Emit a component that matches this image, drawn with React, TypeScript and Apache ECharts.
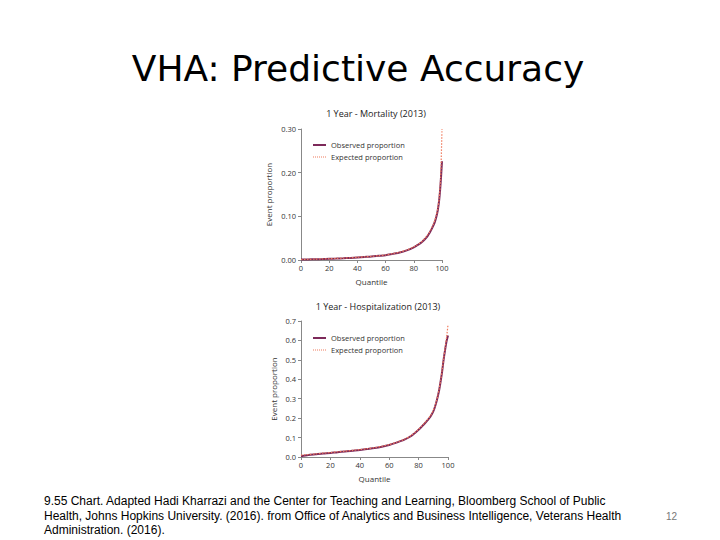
import React, { useEffect, useRef } from "react";
import * as echarts from "echarts";

const quantiles = [0, 5, 10, 15, 20, 25, 30, 35, 40, 45, 50, 55, 60, 65, 70, 75, 80, 82, 84, 86, 88, 90, 91, 92, 93, 94, 95, 96, 97, 98, 99, 100];

const mortObserved = [0.001, 0.0012, 0.0018, 0.0022, 0.0028, 0.0033, 0.004, 0.0048, 0.006, 0.007, 0.008, 0.0095, 0.011, 0.014, 0.017, 0.022, 0.029, 0.033, 0.037, 0.042, 0.048, 0.056, 0.061, 0.067, 0.073, 0.08, 0.088, 0.099, 0.114, 0.137, 0.175, 0.226];
const mortExpected = [0.0012, 0.0014, 0.002, 0.0025, 0.003, 0.0036, 0.0043, 0.0051, 0.0062, 0.0072, 0.0083, 0.0098, 0.0115, 0.0145, 0.018, 0.023, 0.03, 0.034, 0.038, 0.043, 0.05, 0.058, 0.063, 0.069, 0.076, 0.083, 0.092, 0.103, 0.118, 0.142, 0.185, 0.3];

const hospObserved = [0.004, 0.01, 0.014, 0.018, 0.021, 0.025, 0.028, 0.032, 0.036, 0.041, 0.046, 0.053, 0.062, 0.074, 0.088, 0.108, 0.14, 0.155, 0.171, 0.188, 0.207, 0.235, 0.255, 0.28, 0.31, 0.345, 0.39, 0.44, 0.5, 0.55, 0.595, 0.625];
const hospExpected = [0.01, 0.013, 0.016, 0.02, 0.023, 0.027, 0.03, 0.034, 0.038, 0.043, 0.048, 0.055, 0.064, 0.076, 0.09, 0.111, 0.143, 0.158, 0.174, 0.192, 0.212, 0.24, 0.26, 0.285, 0.315, 0.35, 0.395, 0.445, 0.505, 0.56, 0.615, 0.68];

const xTicks = { min: 0, max: 100, interval: 20 };
const mortTicks = { min: 0, max: 0.3, interval: 0.1 };
const hospTicks = { min: 0, max: 0.7, interval: 0.1 };

const titleText = "VHA: Predictive Accuracy";
const chartTitles = ["1 Year - Mortality (2013)", "1 Year - Hospitalization (2013)"];
const seriesNames = ["Observed proportion", "Expected proportion"];
const footerLines = [
  "9.55 Chart. Adapted Hadi Kharrazi and the Center for Teaching and Learning, Bloomberg School of Public",
  "Health, Johns Hopkins University. (2016). from Office of Analytics and Business Intelligence, Veterans Health",
  "Administration. (2016).",
];
const pageNumber = "12";

const OBS = "#7d2a5a";
const EXP = "#f07a5c";
const AXIS = "#888";
const TXT = "#333";
const FONT = "'Open Sans', 'Noto Sans', sans-serif";
const DOTTED_ICON = "path://M0,0h1v1h-1zM2,0h1v1h-1zM4,0h1v1h-1zM6,0h1v1h-1zM8,0h1v1h-1zM10,0h1v1h-1zM12,0h1v1h-1z";

function pairs(xs: number[], ys: number[]) {
  return xs.map((x, i) => [x, ys[i]]);
}

export default function App() {
  const ref = useRef<HTMLDivElement>(null);
  useEffect(() => {
    if (!ref.current) return;
    const chart = echarts.init(ref.current, null, { renderer: "svg" });
    const xAxisBase = (gridIndex: number) => ({
      type: "value",
      gridIndex,
      ...xTicks,
      name: "Quantile",
      nameLocation: "middle",
      nameGap: 17,
      nameTextStyle: { fontSize: 8, color: TXT, fontFamily: FONT },
      axisLine: { show: true, lineStyle: { color: AXIS, width: 1 } },
      axisTick: { show: true, length: 3, lineStyle: { color: AXIS } },
      axisLabel: { fontSize: 7.5, color: TXT, fontFamily: FONT, margin: 4 },
      splitLine: { show: false },
    });
    const yAxisBase = (gridIndex: number, ticks: any, digits: number) => ({
      type: "value",
      gridIndex,
      ...ticks,
      name: "Event proportion",
      nameLocation: "middle",
      nameGap: digits === 2 ? 29 : 24,
      nameTextStyle: { fontSize: 8, color: TXT, fontFamily: FONT },
      axisLine: { show: true, lineStyle: { color: AXIS, width: 1 } },
      axisTick: { show: true, length: 3, lineStyle: { color: AXIS } },
      axisLabel: {
        fontSize: 7.5,
        color: TXT,
        fontFamily: FONT,
        margin: 5,
        formatter: (v: number) => v.toFixed(digits),
      },
      splitLine: { show: false },
    });
    const legendBase = (top: number) => ({
      orient: "vertical",
      left: 313,
      top,
      padding: 0,
      itemWidth: 13,
      itemHeight: 2,
      itemGap: 4,
      textStyle: { fontSize: 7.5, color: TXT, fontFamily: FONT },
      data: [
        { name: seriesNames[0], icon: "rect", itemStyle: { color: OBS } },
        { name: seriesNames[1], icon: DOTTED_ICON, itemStyle: { color: EXP } },
      ],
    });
    const lineSeries = (name: string, idx: number, data: number[], observed: boolean) => ({
      name,
      type: "line",
      xAxisIndex: idx,
      yAxisIndex: idx,
      data: pairs(quantiles, data),
      symbol: "none",
      smooth: 0.25,
      lineStyle: observed
        ? { color: OBS, width: 2 }
        : { color: EXP, width: 1.2, type: [1.5, 1.5] },
      itemStyle: { color: observed ? OBS : EXP },
      z: observed ? 2 : 3,
    });
    chart.setOption({
      animation: false,
      backgroundColor: "#fff",
      title: [
        {
          text: chartTitles[0],
          left: 371,
          top: 104,
          textAlign: "center",
          textStyle: { fontSize: 9, fontWeight: "normal", color: "#222", fontFamily: FONT },
        },
        {
          text: chartTitles[1],
          left: 373,
          top: 297,
          textAlign: "center",
          textStyle: { fontSize: 9, fontWeight: "normal", color: "#222", fontFamily: FONT },
        },
      ],
      legend: [legendBase(141), legendBase(334)],
      grid: [
        { left: 301, top: 129, width: 141, height: 131 },
        { left: 301, top: 321, width: 147, height: 136 },
      ],
      xAxis: [xAxisBase(0), xAxisBase(1)],
      yAxis: [yAxisBase(0, mortTicks, 2), yAxisBase(1, hospTicks, 1)],
      series: [
        lineSeries(seriesNames[0], 0, mortObserved, true),
        lineSeries(seriesNames[1], 0, mortExpected, false),
        lineSeries(seriesNames[0], 1, hospObserved, true),
        lineSeries(seriesNames[1], 1, hospExpected, false),
      ],
      graphic: [
        {
          type: "text",
          x: 358,
          y: 68,
          style: {
            text: titleText,
            fontSize: 36,
            fill: "#000",
            align: "center",
            verticalAlign: "middle",
            fontFamily: "'DejaVu Sans', sans-serif",
          },
        },
        ...footerLines.map((line, i) => ({
          type: "text",
          x: 44,
          y: 501 + i * 14.5,
          style: {
            text: line,
            fontSize: 12,
            fill: "#000",
            verticalAlign: "middle",
            fontFamily: "'Liberation Sans', Arial, sans-serif",
          },
        })),
        {
          type: "text",
          x: 666,
          y: 516,
          style: {
            text: pageNumber,
            fontSize: 10,
            fill: "#777",
            verticalAlign: "middle",
            fontFamily: "'Liberation Sans', Arial, sans-serif",
          },
        },
      ],
    });
    return () => chart.dispose();
  }, []);
  return (
    <div
      ref={ref}
      style={{ position: "absolute", left: 0, top: 0, width: 720, height: 540 }}
    />
  );
}
